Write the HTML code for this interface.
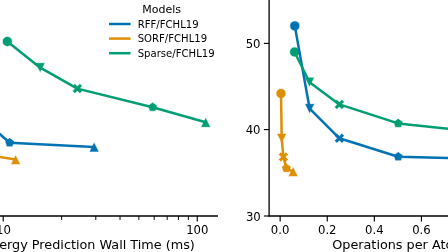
<!DOCTYPE html>
<html><head><meta charset="utf-8"><title>plot</title>
<style>
html,body{margin:0;padding:0;background:#fff;}
body{width:448px;height:252px;overflow:hidden;}
svg{display:block;font-family:"DejaVu Sans","Liberation Sans",sans-serif;fill:#000;}
</style></head><body>
<svg width="448" height="252" viewBox="0 0 448 252">
<rect width="448" height="252" fill="#fff"/>
<g><line x1="-5" y1="216.0" x2="218" y2="216.0" stroke="#000" stroke-width="1.3"/><line x1="3.20" y1="216" x2="3.20" y2="221.6" stroke="#000" stroke-width="1.15"/><line x1="197.25" y1="216" x2="197.25" y2="221.6" stroke="#000" stroke-width="1.15"/><line x1="61.61" y1="216" x2="61.61" y2="220" stroke="#000" stroke-width="0.95"/><line x1="95.79" y1="216" x2="95.79" y2="220" stroke="#000" stroke-width="0.95"/><line x1="120.03" y1="216" x2="120.03" y2="220" stroke="#000" stroke-width="0.95"/><line x1="138.84" y1="216" x2="138.84" y2="220" stroke="#000" stroke-width="0.95"/><line x1="154.20" y1="216" x2="154.20" y2="220" stroke="#000" stroke-width="0.95"/><line x1="167.19" y1="216" x2="167.19" y2="220" stroke="#000" stroke-width="0.95"/><line x1="178.44" y1="216" x2="178.44" y2="220" stroke="#000" stroke-width="0.95"/><line x1="188.37" y1="216" x2="188.37" y2="220" stroke="#000" stroke-width="0.95"/><line x1="269.1" y1="-5" x2="269.1" y2="216.5" stroke="#000" stroke-width="1.3"/><line x1="268.5" y1="216.0" x2="460" y2="216.0" stroke="#000" stroke-width="1.3"/><line x1="280.15" y1="216" x2="280.15" y2="221.6" stroke="#000" stroke-width="1.15"/><line x1="327.25" y1="216" x2="327.25" y2="221.6" stroke="#000" stroke-width="1.15"/><line x1="374.35" y1="216" x2="374.35" y2="221.6" stroke="#000" stroke-width="1.15"/><line x1="421.45" y1="216" x2="421.45" y2="221.6" stroke="#000" stroke-width="1.15"/><line x1="263.9" y1="216.0" x2="269.1" y2="216.0" stroke="#000" stroke-width="1.15"/><line x1="263.9" y1="129.6" x2="269.1" y2="129.6" stroke="#000" stroke-width="1.15"/><line x1="263.9" y1="43.4" x2="269.1" y2="43.4" stroke="#000" stroke-width="1.15"/><line x1="110.3" y1="24.0" x2="129.3" y2="24.0" stroke="#0173b2" stroke-width="2.5" stroke-linecap="square"/><line x1="110.3" y1="38.6" x2="129.3" y2="38.6" stroke="#de8f05" stroke-width="2.5" stroke-linecap="square"/><line x1="110.3" y1="53.2" x2="129.3" y2="53.2" stroke="#029e73" stroke-width="2.5" stroke-linecap="square"/></g>
<g><polygon points="9.65,137.75 14.41,141.20 12.59,146.80 6.71,146.80 4.89,141.20" fill="#0173b2" stroke="#fff" stroke-width="0.6" stroke-linejoin="miter"/><polygon points="89.10,152.00 99.10,152.00 94.10,142.00" fill="#0173b2" stroke="#fff" stroke-width="0.6" stroke-linejoin="miter"/><polygon points="10.60,164.60 20.60,164.60 15.60,154.60" fill="#de8f05" stroke="#fff" stroke-width="0.6" stroke-linejoin="miter"/><circle cx="7.35" cy="41.5" r="5.00" fill="#029e73" stroke="#fff" stroke-width="0.6"/><polygon points="35.20,62.70 45.20,62.70 40.20,72.70" fill="#029e73" stroke="#fff" stroke-width="0.6" stroke-linejoin="miter"/><polygon points="74.85,83.60 77.35,86.10 79.85,83.60 82.35,86.10 79.85,88.60 82.35,91.10 79.85,93.60 77.35,91.10 74.85,93.60 72.35,91.10 74.85,88.60 72.35,86.10" fill="#029e73" stroke="#fff" stroke-width="0.6" stroke-linejoin="miter"/><polygon points="152.60,102.20 157.36,105.65 155.54,111.25 149.66,111.25 147.84,105.65" fill="#029e73" stroke="#fff" stroke-width="0.6" stroke-linejoin="miter"/><polygon points="200.70,127.30 210.70,127.30 205.70,117.30" fill="#029e73" stroke="#fff" stroke-width="0.6" stroke-linejoin="miter"/><circle cx="294.8" cy="25.9" r="5.00" fill="#0173b2" stroke="#fff" stroke-width="0.6"/><polygon points="304.65,103.70 314.65,103.70 309.65,113.70" fill="#0173b2" stroke="#fff" stroke-width="0.6" stroke-linejoin="miter"/><polygon points="336.90,133.30 339.40,135.80 341.90,133.30 344.40,135.80 341.90,138.30 344.40,140.80 341.90,143.30 339.40,140.80 336.90,143.30 334.40,140.80 336.90,138.30 334.40,135.80" fill="#0173b2" stroke="#fff" stroke-width="0.6" stroke-linejoin="miter"/><polygon points="398.20,151.70 402.96,155.15 401.14,160.75 395.26,160.75 393.44,155.15" fill="#0173b2" stroke="#fff" stroke-width="0.6" stroke-linejoin="miter"/><circle cx="281.0" cy="93.5" r="5.00" fill="#de8f05" stroke="#fff" stroke-width="0.6"/><polygon points="276.70,133.40 286.70,133.40 281.70,143.40" fill="#de8f05" stroke="#fff" stroke-width="0.6" stroke-linejoin="miter"/><polygon points="280.85,151.90 283.35,154.40 285.85,151.90 288.35,154.40 285.85,156.90 288.35,159.40 285.85,161.90 283.35,159.40 280.85,161.90 278.35,159.40 280.85,156.90 278.35,154.40" fill="#de8f05" stroke="#fff" stroke-width="0.6" stroke-linejoin="miter"/><polygon points="286.35,163.30 291.11,166.75 289.29,172.35 283.41,172.35 281.59,166.75" fill="#de8f05" stroke="#fff" stroke-width="0.6" stroke-linejoin="miter"/><polygon points="288.10,176.60 298.10,176.60 293.10,166.60" fill="#de8f05" stroke="#fff" stroke-width="0.6" stroke-linejoin="miter"/><circle cx="294.6" cy="52.0" r="5.00" fill="#029e73" stroke="#fff" stroke-width="0.6"/><polygon points="304.50,77.20 314.50,77.20 309.50,87.20" fill="#029e73" stroke="#fff" stroke-width="0.6" stroke-linejoin="miter"/><polygon points="336.90,99.40 339.40,101.90 341.90,99.40 344.40,101.90 341.90,104.40 344.40,106.90 341.90,109.40 339.40,106.90 336.90,109.40 334.40,106.90 336.90,104.40 334.40,101.90" fill="#029e73" stroke="#fff" stroke-width="0.6" stroke-linejoin="miter"/><polygon points="398.20,118.40 402.96,121.85 401.14,127.45 395.26,127.45 393.44,121.85" fill="#029e73" stroke="#fff" stroke-width="0.6" stroke-linejoin="miter"/><polyline points="-20,116.6 9.65,142.75 94.1,147.0" fill="none" stroke="#0173b2" stroke-width="2.5" stroke-linejoin="round" stroke-linecap="round"/><polyline points="-20,153.9 15.6,159.6" fill="none" stroke="#de8f05" stroke-width="2.5" stroke-linejoin="round" stroke-linecap="round"/><polyline points="7.35,41.5 40.2,67.7 77.35,88.6 152.6,107.2 205.7,122.3" fill="none" stroke="#029e73" stroke-width="2.5" stroke-linejoin="round" stroke-linecap="round"/><polyline points="294.8,25.9 309.65,108.7 339.4,138.3 398.2,156.7 470,158.5" fill="none" stroke="#0173b2" stroke-width="2.5" stroke-linejoin="round" stroke-linecap="round"/><polyline points="281.0,93.5 281.7,138.4 283.35,156.9 286.35,168.3 293.1,171.6" fill="none" stroke="#de8f05" stroke-width="2.5" stroke-linejoin="round" stroke-linecap="round"/><polyline points="294.6,52.0 309.5,82.2 339.4,104.4 398.2,123.4 470,131.2" fill="none" stroke="#029e73" stroke-width="2.5" stroke-linejoin="round" stroke-linecap="round"/></g>
<g><text x="3.4" y="233.5" font-size="11.7" text-anchor="middle">10</text><text x="197.35" y="233.5" font-size="11.7" text-anchor="middle">100</text><text x="280.15" y="233.5" font-size="11.7" text-anchor="middle">0.0</text><text x="327.25" y="233.5" font-size="11.7" text-anchor="middle">0.2</text><text x="374.34999999999997" y="233.5" font-size="11.7" text-anchor="middle">0.4</text><text x="421.45" y="233.5" font-size="11.7" text-anchor="middle">0.6</text><text x="260.8" y="221.2" font-size="11.7" text-anchor="end">30</text><text x="260.5" y="134.35" font-size="11.7" text-anchor="end">40</text><text x="260.5" y="47.9" font-size="11.7" text-anchor="end">50</text><text x="194.85" y="249.1" font-size="12.8" text-anchor="end">Energy Prediction Wall Time (ms)</text><text x="332.2" y="249.1" font-size="12.8" text-anchor="start">Operations per Atom</text><text x="161.7" y="12.6" font-size="11.0" text-anchor="middle">Models</text><text x="137.7" y="28.0" font-size="10.1" text-anchor="start">RFF/FCHL19</text><text x="137.7" y="42.2" font-size="10.1" text-anchor="start">SORF/FCHL19</text><text x="137.7" y="56.9" font-size="10.1" text-anchor="start">Sparse/FCHL19</text></g>
</svg>
</body></html>
